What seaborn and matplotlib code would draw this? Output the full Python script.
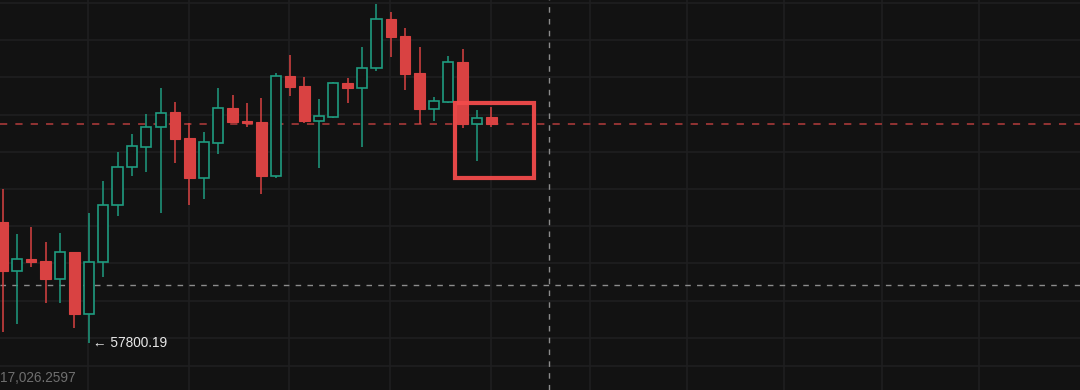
import numpy as np
import pandas as pd
import matplotlib
matplotlib.use("Agg")
import matplotlib.pyplot as plt
import seaborn as sns
from matplotlib.patches import Rectangle

# ---------------- data ----------------
opens  = [59010, 58520, 58640, 58620, 58440, 58710, 58090, 58610, 59180, 59560,
          59760, 59960, 60110, 59850, 59450, 59800, 60150, 60020, 60010, 59470,
          60470, 60370, 60020, 60060, 60400, 60350, 60550, 61040, 60870, 60500,
          60140, 60210, 60610, 59990, 60060]
highs  = [59340, 58890, 58960, 58810, 58900, 58710, 59100, 59420, 59710, 59890,
          60090, 60350, 60210, 60000, 59910, 60350, 60280, 60200, 60250, 60500,
          60680, 60460, 60240, 60410, 60450, 60760, 61190, 61110, 60950, 60760,
          60260, 60670, 60740, 60130, 60160]
lows   = [57910, 57990, 58560, 58200, 58200, 57950, 57800.19, 58460, 59070, 59470,
          59510, 59100, 59600, 59180, 59240, 59690, 60010, 59960, 59290, 59450,
          60270, 60000, 59550, 60050, 60200, 59760, 60520, 60660, 60330, 59990,
          60020, 60200, 59950, 59620, 59960]
closes = [58520, 58640, 58610, 58440, 58710, 58090, 58610, 59180, 59560, 59770,
          59960, 60100, 59840, 59450, 59810, 60150, 60010, 60000, 59470, 60470,
          60360, 60020, 60070, 60400, 60350, 60550, 61040, 60860, 60490, 60140,
          60220, 60610, 59990, 60050, 59990]

low_label = "← 57800.19"
volume_label = "17,026.2597"
crosshair_bar = 38          # bar index of vertical crosshair
crosshair_price = 58380     # price of horizontal crosshair
box_bars = (31.47, 36.96)   # highlight box, bar-index range
box_prices = (59450, 60200) # highlight box, price range

df = pd.DataFrame({"open": opens, "high": highs, "low": lows, "close": closes})
df["idx"] = np.arange(len(df))
df["up"] = df["close"] >= df["open"]

# ---------------- style ----------------
BG = "#121212"
GRID = "#1f1f20"
GREEN = "#1f9c80"
RED = "#d94242"
BOX = "#f24b4b"

sns.set_theme(style="dark", rc={
    "axes.facecolor": BG, "figure.facecolor": BG,
    "axes.edgecolor": BG, "grid.color": GRID,
})
plt.rcParams["font.family"] = ["Liberation Sans", "DejaVu Sans"]

W, H, DPI = 1080, 390, 100
fig = plt.figure(figsize=(W / DPI, H / DPI), dpi=DPI)
ax = fig.add_axes([0, 0, 1, 1])
ax.set_facecolor(BG)

PX_BAR = 14.38      # pixels per bar
X0_PX = 2.5         # pixel of bar 0 centre
PX_PRICE = 10.0     # price units per pixel
TOP_PRICE = 61230.19

ax.set_xlim((0 - X0_PX) / PX_BAR, (W - X0_PX) / PX_BAR)
ax.set_ylim(TOP_PRICE - H * PX_PRICE, TOP_PRICE)

# grid
vgrid_px = [88, 189, 289, 390, 491, 590, 687, 784, 882, 979]
hgrid_px = [3 + 37.2 * i for i in range(10)] + [366]
for p in vgrid_px:
    ax.axvline((p - X0_PX) / PX_BAR, color=GRID, lw=1.2, zorder=0)
for p in hgrid_px:
    ax.axhline(TOP_PRICE - p * PX_PRICE, color=GRID, lw=1.2, zorder=0)
ax.grid(False)
ax.set_xticks([]); ax.set_yticks([])
for s in ax.spines.values():
    s.set_visible(False)

# crosshair + price line
ax.axhline(crosshair_price, color="#8c8c8c", lw=1.0, ls=(0, (4, 4.5)), zorder=1)
ax.axvline(crosshair_bar, color="#8c8c8c", lw=1.0, ls=(0, (4, 4.5)), zorder=1)
ax.axhline(closes[-1], color="#9c3636", lw=1.3, ls=(0, (4, 4.5)), zorder=1)

# candles
BW = 0.72
for _, r in df.iterrows():
    col = GREEN if r["up"] else RED
    ax.vlines(r["idx"], r["low"], r["high"], color=col, lw=1.1, zorder=2)
    lo = min(r["open"], r["close"]); hi = max(r["open"], r["close"])
    hgt = max(hi - lo, 15)
    if r["up"]:
        ax.add_patch(Rectangle((r["idx"] - BW / 2, lo), BW, hgt,
                               facecolor=BG, edgecolor=col, lw=1.2, zorder=3))
    else:
        ax.add_patch(Rectangle((r["idx"] - BW / 2, lo), BW, hgt,
                               facecolor=col, edgecolor=col, lw=0.8, zorder=3))

# highlight box
ax.add_patch(Rectangle((box_bars[0], box_prices[0]), box_bars[1] - box_bars[0],
                       box_prices[1] - box_prices[0], facecolor="none",
                       edgecolor=BOX, lw=3.0, zorder=5, alpha=0.95))

# labels
low_i = int(np.argmin(lows))
ax.annotate(low_label, xy=(low_i, lows[low_i]), xytext=(3, 0),
            textcoords="offset points", va="center", ha="left",
            color="#e8e8e8", fontsize=9.8, zorder=6)
fig.text(0.0, 1 - 378 / H, volume_label, ha="left", va="center",
         color="#6f6f6f", fontsize=9.8)

fig.savefig("out.png", dpi=DPI, facecolor=BG)
